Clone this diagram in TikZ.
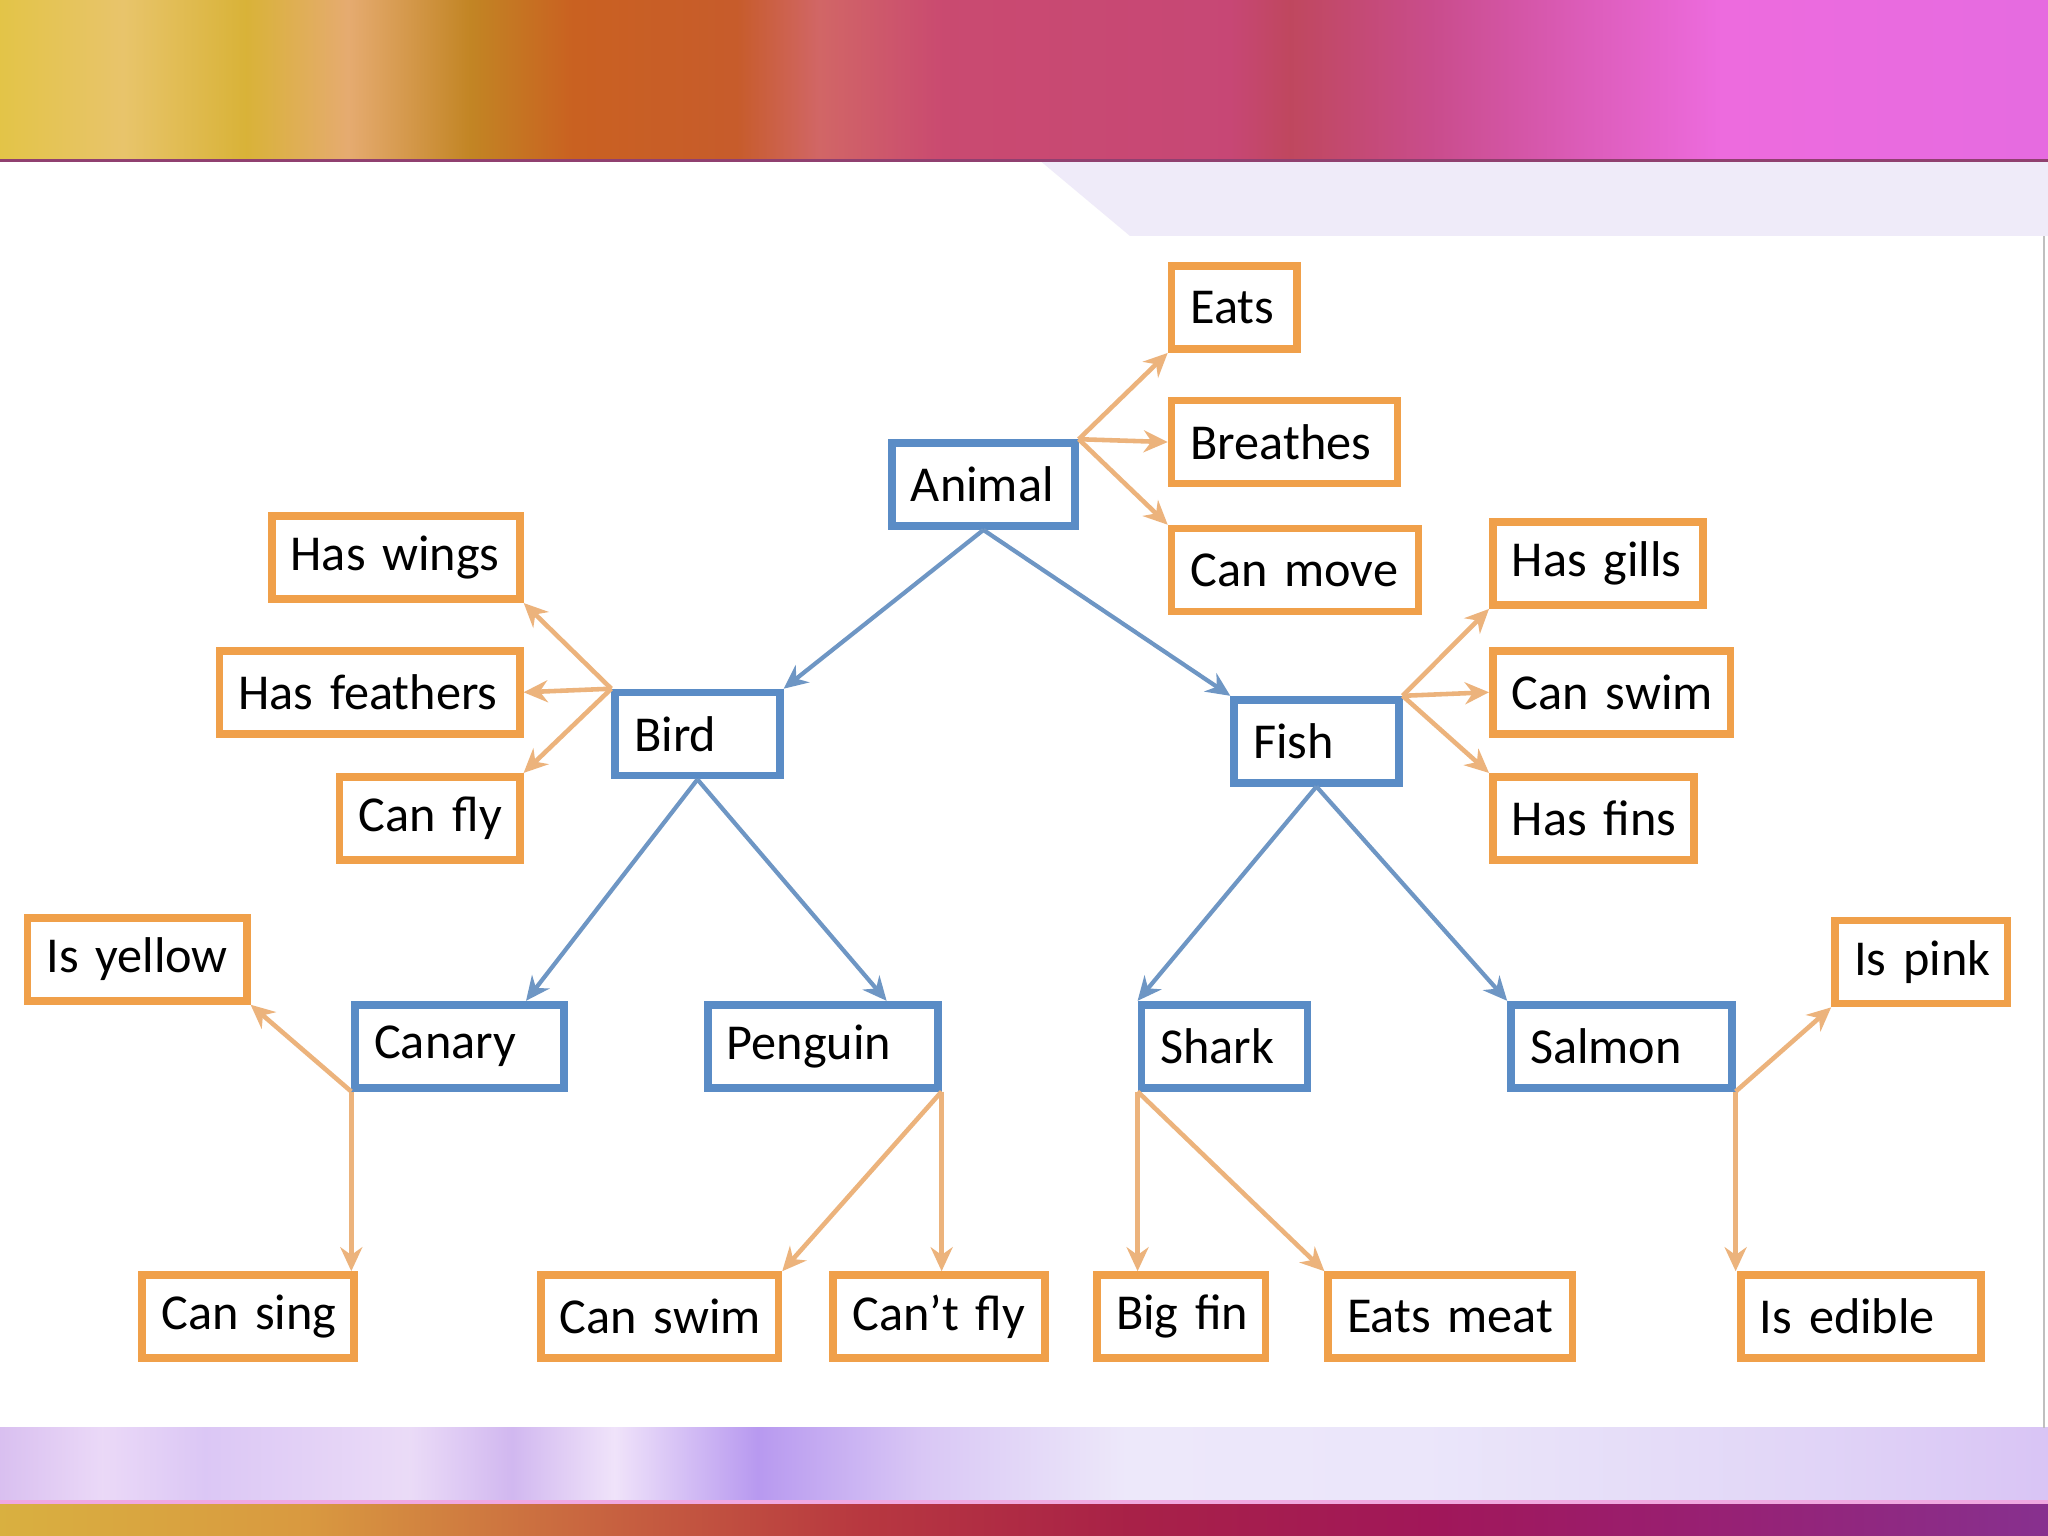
\documentclass[tikz,border=0pt]{standalone}
\usepackage{fontspec}
\setmainfont{Carlito}
\usepackage{tikz}
\usetikzlibrary{arrows.meta}

\definecolor{boxorange}{HTML}{F0A04A}
\definecolor{boxblue}{HTML}{5A8CC6}
\definecolor{lineorange}{HTML}{ECB37C}
\definecolor{lineblue}{HTML}{6E96C4}
\definecolor{bandlav}{HTML}{EFEBF9}
\definecolor{bannerline}{HTML}{904070}
\definecolor{pinkline}{HTML}{F0A8E0}

\pgfdeclarehorizontalshading{topband}{100bp}{rgb(0bp)=(0.89,0.77,0.28); rgb(25bp)=(0.89,0.77,0.28); rgb(28bp)=(0.91,0.77,0.42); rgb(31bp)=(0.85,0.70,0.22); rgb(33.5bp)=(0.90,0.67,0.44); rgb(36.5bp)=(0.76,0.52,0.14); rgb(39bp)=(0.79,0.38,0.13); rgb(43bp)=(0.78,0.36,0.17); rgb(45bp)=(0.82,0.40,0.40); rgb(48bp)=(0.79,0.29,0.44); rgb(55bp)=(0.78,0.28,0.46); rgb(56.5bp)=(0.75,0.28,0.37); rgb(60bp)=(0.79,0.30,0.55); rgb(63.5bp)=(0.86,0.36,0.72); rgb(67bp)=(0.93,0.42,0.87); rgb(75bp)=(0.90,0.42,0.88); rgb(100bp)=(0.90,0.42,0.88)}
\pgfdeclarehorizontalshading{lavband}{100bp}{rgb(0bp)=(0.85,0.75,0.94); rgb(25bp)=(0.85,0.75,0.94); rgb(27.5bp)=(0.92,0.85,0.97); rgb(30bp)=(0.86,0.78,0.96); rgb(35bp)=(0.92,0.86,0.97); rgb(37.5bp)=(0.82,0.72,0.94); rgb(40bp)=(0.94,0.89,0.98); rgb(43.5bp)=(0.72,0.60,0.94); rgb(47.5bp)=(0.85,0.78,0.96); rgb(52.5bp)=(0.93,0.91,0.98); rgb(60bp)=(0.92,0.90,0.98); rgb(67.5bp)=(0.89,0.85,0.97); rgb(75bp)=(0.85,0.77,0.96); rgb(100bp)=(0.85,0.77,0.96)}
\pgfdeclarehorizontalshading{bottomband}{100bp}{rgb(0bp)=(0.85,0.69,0.25); rgb(25bp)=(0.85,0.69,0.25); rgb(32.5bp)=(0.85,0.60,0.25); rgb(40bp)=(0.78,0.38,0.25); rgb(46bp)=(0.72,0.22,0.25); rgb(52.5bp)=(0.66,0.13,0.28); rgb(60bp)=(0.63,0.09,0.35); rgb(66bp)=(0.60,0.12,0.44); rgb(75bp)=(0.53,0.19,0.56); rgb(100bp)=(0.53,0.19,0.56)}

\begin{document}
\begin{tikzpicture}[
	attr/.style={draw=boxorange, line width=2.2pt, fill=white, minimum height=0.83cm, inner xsep=0.19cm, anchor=west, align=left, font=\fontsize{14.3}{17}\selectfont},
	cls/.style={attr, draw=boxblue},
	attrline/.style={draw=lineorange, line width=1.3pt, -{Stealth[length=2.4mm,width=2.2mm]}},
	clsline/.style={draw=lineblue, line width=1.2pt, -{Stealth[length=2.4mm,width=2.2mm]}}
	]
	\useasboundingbox (0,0) rectangle (20.48,15.36);
	\fill[white] (0,0) rectangle (20.48,15.36);

	% slide background
	\shade[shading=topband] (0,13.753) rectangle (20.48,15.36);
	\fill[bandlav] (10.4,13.753) -- (11.3,13.0) -- (20.48,13.0) -- (20.48,13.753) -- cycle;
	\draw[bannerline, line width=0.8pt] (0,13.753) -- (20.48,13.753);
	\shade[shading=lavband] (0,0.34) rectangle (20.48,1.084);
	\shade[shading=bottomband] (0,0) rectangle (20.48,0.34);
	\draw[pinkline, line width=1pt] (0,0.34) -- (20.48,0.34);
	\draw[gray!50, line width=0.6pt] (20.44,1.084) -- (20.44,13.0);

	% classes
	\foreach \nm/\px/\py/\w/\txt in {animal/8.881/10.514/1.449/Animal, bird/6.113/8.019/1.266/Bird, fish/12.303/7.948/1.266/Fish, canary/3.513/4.898/1.710/Canary, penguin/7.040/4.898/1.919/Penguin, shark/11.376/4.898/1.279/Shark, salmon/15.072/4.898/1.827/Salmon}
		\node[cls, text width=\w cm] (\nm) at (\px,\py) {\mbox{\txt}};

	% properties
	\foreach \nm/\px/\py/\w/\txt in {eats/11.677/12.284/0.874/Eats, breathes/11.677/10.939/1.880/Breathes, canmove/11.677/9.659/2.089/Can move, haswings/2.678/9.783/2.102/Has wings, hasfeathers/2.155/8.437/2.624/Has feathers, canfly/3.357/7.177/1.422/Can fly, hasgills/14.890/9.724/1.723/Has gills, canswimf/14.890/8.437/1.997/Can swim, hasfins/14.890/7.177/1.631/Has fins, isyellow/0.235/5.766/1.814/Is yellow, ispink/18.312/5.740/1.344/Is pink, cansing/1.384/2.194/1.736/Can sing, canswimp/5.368/2.194/1.997/Can swim, cantfly/8.294/2.194/1.736/Can’t fly, bigfin/10.932/2.194/1.305/Big fin, eatsmeat/13.244/2.194/2.062/Eats meat, isedible/17.371/2.194/2.023/Is edible}
		\node[attr, text width=\w cm] (\nm) at (\px,\py) {\mbox{\txt}};

	% is-a links
	\foreach \a/\b in {animal.south/bird.north east, animal.south/fish.north west, fish.south/shark.north west, fish.south/salmon.north west}
		\draw[clsline] (\a) -- (\b);
	\draw[clsline] (bird.south) -- ([xshift=-0.42cm]canary.north east);
	\draw[clsline] (bird.south) -- ([xshift=-0.55cm]penguin.north east);

	% has-property links
	\foreach \a/\b in {animal.north east/eats.south west, animal.north east/breathes.west, animal.north east/canmove.north west, bird.north west/haswings.south east, bird.north west/hasfeathers.east, bird.north west/canfly.north east, fish.north east/hasgills.south west, fish.north east/canswimf.west, fish.north east/hasfins.north west, canary.south west/isyellow.south east, penguin.south east/canswimp.north east, shark.south west/eatsmeat.north west, salmon.south east/ispink.south west}
		\draw[attrline] (\a) -- (\b);
	\foreach \a/\b in {canary.south west/cansing, penguin.south east/cantfly, shark.south west/bigfin, salmon.south east/isedible}
		\draw[attrline] (\a) -- (\a |- \b.north);
\end{tikzpicture}
\end{document}
